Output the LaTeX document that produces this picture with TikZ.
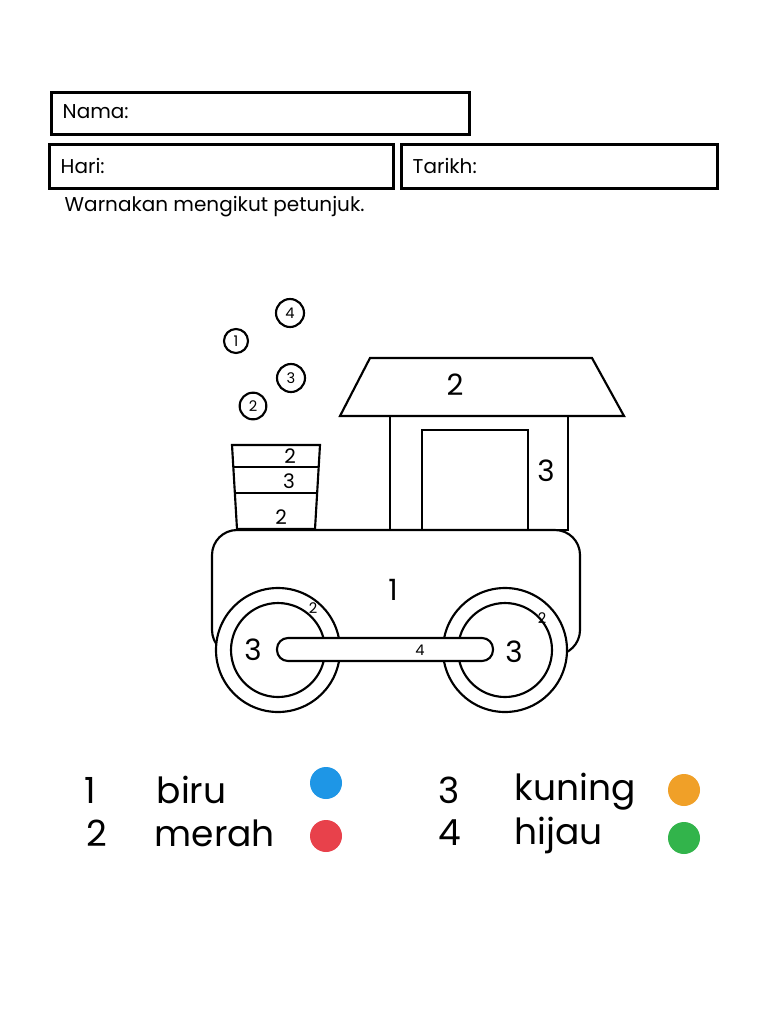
\documentclass[tikz,border=0pt]{standalone}
\usepackage{fontspec}
\setmainfont{Poppins}
\begin{document}
\begin{tikzpicture}[x=0.75pt,y=-0.75pt,
  box/.style={draw=black,line width=2.2pt},
  ln/.style={draw=black,line width=1.6pt},
  hdr/.style={anchor=west,font=\fontsize{15}{18}\selectfont},
  big/.style={font=\fontsize{22}{26}\selectfont},
  mid/.style={font=\fontsize{15}{18}\selectfont},
  sm/.style={font=\fontsize{11}{13}\selectfont},
  leg/.style={font=\fontsize{27}{32}\selectfont,anchor=west},
  dot/.style={circle,minimum size=24pt,inner sep=0pt}]
\useasboundingbox (0,0) rectangle (768,1024);
\fill[white] (0,0) rectangle (768,1024);
% header
\node[box,minimum width=418*0.75pt,minimum height=42*0.75pt,anchor=north west] (nama) at (50,91) {};
\node[hdr] at (58,112) {Nama:};
\node[box,minimum width=344*0.75pt,minimum height=44*0.75pt,anchor=north west] (hari) at (48,143) {};
\node[hdr] at (56,166) {Hari:};
\node[box,minimum width=316*0.75pt,minimum height=44*0.75pt,anchor=north west] (tarikh) at (400,143) {};
\node[hdr] at (408,166) {Tarikh:};
\node[hdr] (ins) at (60,207) {Warnakan mengikut petunjuk.};
% smoke
\node[ln,circle,minimum size=18pt,inner sep=0pt,sm] (s1) at (236,341) {1};
\node[ln,circle,minimum size=21pt,inner sep=0pt,sm] (s4) at (290,313) {4};
\node[ln,circle,minimum size=21pt,inner sep=0pt,sm] (s3) at (291,378) {3};
\node[ln,circle,minimum size=20pt,inner sep=0pt,sm] (s2) at (253,406) {2};
% roof
\draw[ln] (370,358) -- (592,358) -- (624,416) -- (340,416) -- cycle;
\node[big] at (455,385) {2};
% cab
\draw[ln] (390,416) rectangle (568,530);
\draw[ln] (422,430) rectangle (528,530);
\node[big] at (546,471) {3};
% chimney
\draw[ln] (232,445) -- (320,445) -- (315,529) -- (237,529) -- cycle;
\draw[ln] (233,467) -- (318,467);
\draw[ln] (234,493) -- (317,493);
\node[mid] at (290,456) {2};
\node[mid] at (289,481) {3};
\node[mid] at (281,517) {2};
% body
\draw[ln,rounded corners=25*0.75pt] (212,530) rectangle (580,655);
\node[big] at (393,590) {1};
% wheels
\foreach \cx/\nm in {278/L,505/R}{
  \draw[ln,fill=white] (\cx,650) circle (62);
  \draw[ln] (\cx,650) circle (47);
}
\node[big] at (253,650) {3};
\node[sm] at (313,608) {2};
\node[big] at (514,652) {3};
\node[sm] at (542,618) {2};
% rod
\draw[ln,fill=white,rounded corners=11*0.75pt] (277,638) rectangle (493,661);
\node[sm] at (420,650) {4};
% legend
\node[leg] at (80,790) {1};
\node[leg] at (152,790) {biru};
\node[dot,fill={rgb,255:red,30;green,150;blue,230}] (cb) at (326,783) {};
\node[leg] at (82,833) {2};
\node[leg] at (150,833) {merah};
\node[dot,fill={rgb,255:red,232;green,65;blue,75}] (cr) at (326,836) {};
\node[leg] at (434,790) {3};
\node[leg] at (510,792) {kuning};
\node[dot,fill={rgb,255:red,240;green,160;blue,40}] (co) at (684,790) {};
\node[leg] at (434,833) {4};
\node[leg] at (510,835) {hijau};
\node[dot,fill={rgb,255:red,50;green,180;blue,75}] (cg) at (684,838) {};
\end{tikzpicture}
\end{document}
